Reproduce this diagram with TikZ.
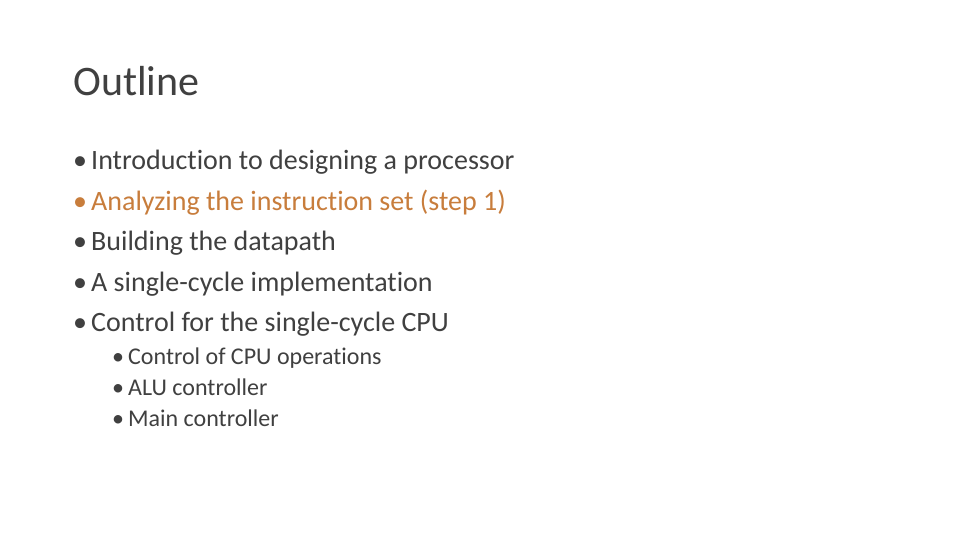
\documentclass[tikz,border=0pt]{standalone}
\usepackage{fontspec}
\setmainfont[Ligatures=NoCommon]{Carlito}
\definecolor{hl}{RGB}{200,125,60}
\begin{document}
\begin{tikzpicture}[x=1pt,y=-1pt,
  txt/.style={anchor=base west,inner sep=0pt,text=black!75},
  big/.style={txt,font=\fontsize{28}{32}\selectfont},
  small/.style={txt,font=\fontsize{24}{28}\selectfont}]
\path[use as bounding box,fill=white] (0,0) rectangle (960,540);
\node[txt,font=\fontsize{42}{48}\selectfont] (t) at (73,96) {Outline};
\foreach \y/\s/\c [count=\i] in {170/Introduction to designing a processor/black!75,
  210/Analyzing the instruction set (step 1)/hl,
  250/Building the datapath/black!75,
  291/A single-cycle implementation/black!75,
  331/Control for the single-cycle CPU/black!75}{
  \node[big,text=\c] (d\i) at (73,\y) {\textbullet};
  \node[big,text=\c] (b\i) at (91,\y) {\s};
}
\foreach \y/\s [count=\i] in {364/Control of CPU operations,395/ALU controller,426/Main controller}{
  \node[small] (e\i) at (112,\y) {\textbullet};
  \node[small] (s\i) at (128,\y) {\s};
}
\end{tikzpicture}
\end{document}
